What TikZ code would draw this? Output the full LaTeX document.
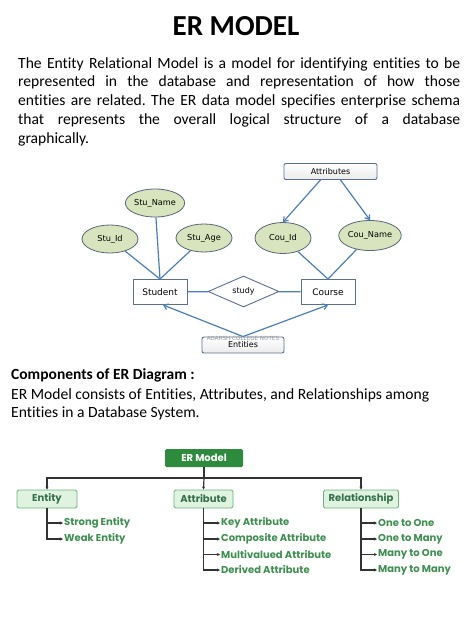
\documentclass[tikz,border=0pt]{standalone}
\usepackage{fontspec}
\setmainfont{Carlito}[Ligatures=CommonOff]
\newfontfamily\djv{DejaVu Sans}
\newfontfamily\pop{Poppins}
\usetikzlibrary{shapes.geometric,arrows.meta,calc}
\frenchspacing
\definecolor{bl}{HTML}{4A7EBB}
\definecolor{ellfill}{HTML}{D7E4BD}
\definecolor{ellline}{HTML}{5A6575}
\definecolor{boxline}{HTML}{5B7090}
\definecolor{gdark}{HTML}{2E8B3E}
\definecolor{gfill}{HTML}{DFF3E0}
\definecolor{gline}{HTML}{6BB37B}
\definecolor{gtext}{HTML}{3E8F50}
\definecolor{gbtext}{HTML}{35704A}
\definecolor{tl}{HTML}{333333}
\tikzset{
  para/.style={anchor=base west, inner sep=0, font=\fontsize{15.6}{17}\selectfont},
  ell/.style={ellipse, draw=ellline, fill=ellfill, line width=0.8, minimum width=56, minimum height=28, inner sep=0, font=\djv\fontsize{8.2}{9}\selectfont},
  entbox/.style={rectangle, draw=boxline, fill=white, line width=0.9, minimum width=54, minimum height=25, inner sep=0, font=\djv\fontsize{9}{10}\selectfont},
  lblbox/.style={rectangle, rounded corners=2, draw=boxline, top color=white, bottom color=black!8, line width=0.9, minimum height=16, inner sep=0, font=\djv\fontsize{8}{9}\selectfont},
  bline/.style={draw=bl, line width=1.2},
  barr/.style={bline, -{Straight Barb[length=4pt,width=6pt]}},
  gbox/.style={rectangle, rounded corners=1.5, draw=gline, fill=gfill, line width=0.9, minimum height=18, inner sep=0, text=gbtext, font=\pop\bfseries\fontsize{10}{11}\selectfont},
  leaf/.style={anchor=west, inner sep=1, text=gtext, font=\pop\bfseries\fontsize{10}{11}\selectfont},
  tline/.style={draw=tl, line width=1.2},
  tarr/.style={tline, -{Stealth[length=3pt,width=3pt]}},
}
\begin{document}
\begin{tikzpicture}[x=1pt,y=-1pt]
\useasboundingbox (0,0) rectangle (474,632);
\fill[white] (0,0) rectangle (474,632);
% title and paragraph
\node[anchor=base, inner sep=0, font=\fontsize{29}{30}\selectfont\bfseries] (title) at (236,35) {ER MODEL};
\node[para] (p1) at (18,68) {\makebox[442pt][s]{The Entity Relational Model is a model for identifying entities to be}};
\node[para] (p2) at (18,86.8) {\makebox[442pt][s]{represented in the database and representation of how those}};
\node[para] (p3) at (18,105.6) {\makebox[442pt][s]{entities are related. The ER data model specifies enterprise schema}};
\node[para] (p4) at (18,124.4) {\makebox[442pt][s]{that represents the overall logical structure of a database}};
\node[para] (p5) at (18,143.2) {graphically.};
% ER diagram
\node[lblbox, minimum width=93] (attr) at (330.5,171.5) {Attributes};
\node[ell] (sname) at (155,203) {Stu\_Name};
\node[ell] (sid) at (110,239) {Stu\_Id};
\node[ell] (sage) at (204,238) {Stu\_Age};
\node[ell, minimum height=31] (cid) at (283,238) {Cou\_Id};
\node[ell, minimum width=60, minimum height=30] (cname) at (370,235.5) {Cou\_Name};
\node[entbox] (stu) at (160,292) {Student};
\node[entbox] (crs) at (328,292) {Course};
\node[diamond, shape aspect=2.3, draw=boxline, fill=white, line width=0.9, minimum width=71, minimum height=31, inner sep=0, font=\djv\fontsize{8}{9}\selectfont] (study) at (243.5,291.5) {study};
\node[lblbox, minimum width=82] (ents) at (243,345) {Entities};
\draw[bline] (sid) -- (stu.north);
\draw[bline] (sname) -- (stu.north);
\draw[bline] (sage) -- (stu.north);
\draw[bline] (cid) -- (crs.north);
\draw[bline] (cname) -- (crs.north);
\draw[bline] (stu) -- (study);
\draw[bline] (study) -- (crs);
\draw[barr] ($(attr.south)+(-10,0)$) -- (cid.north);
\draw[barr] ($(attr.south)+(10,0)$) -- (cname.north);
\draw[barr] (ents.north) -- ($(stu.south)+(3,0)$);
\draw[barr] (ents.north) -- (crs.south);
\node[inner sep=0, text=black!40, font=\djv\fontsize{5.6}{6}\selectfont] (wm) at (243,338) {ADARSH COLLEGE NOTES};
% components text
\node[anchor=base west, inner sep=0, font=\fontsize{15.5}{17}\selectfont\bfseries] (comp) at (11,379) {Components of ER Diagram :};
\node[anchor=base west, inner sep=0, font=\fontsize{15.6}{17}\selectfont] (c1) at (11,399) {ER Model consists of Entities, Attributes, and Relationships among};
\node[anchor=base west, inner sep=0, font=\fontsize{15.6}{17}\selectfont] (c2) at (11,417) {Entities in a Database System.};
% tree chart
\node[rectangle, rounded corners=1.5, fill=gdark, minimum width=78, minimum height=18, inner sep=0, text=white, font=\pop\bfseries\fontsize{10}{11}\selectfont] (er) at (204,458) {ER Model};
\node[gbox, minimum width=60] (ent) at (47,499) {Entity};
\node[gbox, minimum width=59] (att) at (203.5,499) {Attribute};
\node[gbox, minimum width=75] (rel) at (361,499) {Relationship};
\coordinate (bus) at (204,478);
\draw[tline] (er.south) -- (bus);
\draw[tarr] (bus) -| (ent.north);
\draw[tarr] (bus) -| (rel.north);
\draw[tarr] (bus) -- (att.north);
\node[leaf] (e1) at (63,523) {Strong Entity};
\node[leaf] (e2) at (63,539) {Weak Entity};
\node[leaf] (a1) at (220,523) {Key Attribute};
\node[leaf] (a2) at (220,539) {Composite Attribute};
\node[leaf] (a3) at (220,554.5) {Multivalued Attribute};
\node[leaf] (a4) at (220,570) {Derived Attribute};
\node[leaf] (r1) at (377,523) {One to One};
\node[leaf] (r2) at (377,539) {One to Many};
\node[leaf] (r3) at (377,554.5) {Many to One};
\node[leaf] (r4) at (377,570) {Many to Many};
\draw[tarr] (ent.south) |- (e1.west);
\draw[tarr] (ent.south) |- (e2.west);
\draw[tarr] (att.south) |- (a1.west);
\draw[tarr] (att.south) |- (a2.west);
\draw[tarr] (att.south) |- (a3.west);
\draw[tarr] (att.south) |- (a4.west);
\draw[tarr] (rel.south) |- (r1.west);
\draw[tarr] (rel.south) |- (r2.west);
\draw[tarr] (rel.south) |- (r3.west);
\draw[tarr] (rel.south) |- (r4.west);
\end{tikzpicture}
\end{document}
